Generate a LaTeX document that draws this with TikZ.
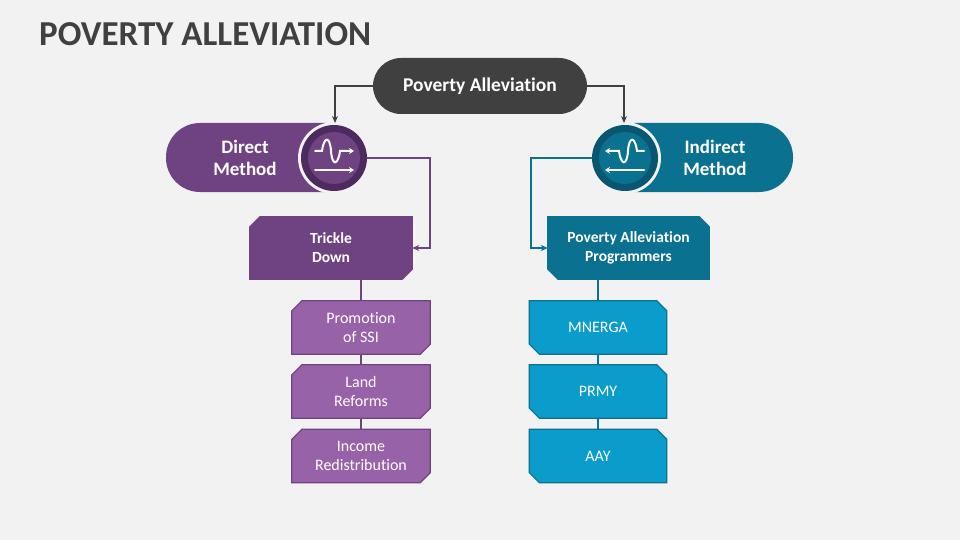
\documentclass[tikz,border=0pt]{standalone}
\usepackage{fontspec}
\setmainfont[Ligatures=NoCommon]{Carlito}
\usetikzlibrary{calc,arrows.meta}
\definecolor{bg}{HTML}{F2F2F2}
\definecolor{dk}{HTML}{404040}
\definecolor{pu}{HTML}{6F4382}
\definecolor{pud}{HTML}{4E2B5E}
\definecolor{pul}{HTML}{9862A8}
\definecolor{te}{HTML}{0B7191}
\definecolor{ted}{HTML}{085670}
\definecolor{tel}{HTML}{0A9CCB}
\newcommand{\cutA}[3]{% cut top-left & bottom-right
 \path[fill=#2,draw=#3,line width=1.2pt] ($(#1.north west)+(10,0)$) -- (#1.north east) -- ($(#1.south east)+(0,-10)$) -- ($(#1.south east)+(-10,0)$) -- (#1.south west) -- ($(#1.north west)+(0,10)$) -- cycle;}
\newcommand{\cutB}[3]{% cut top-right & bottom-left
 \path[fill=#2,draw=#3,line width=1.2pt] (#1.north west) -- ($(#1.north east)+(-10,0)$) -- ($(#1.north east)+(0,10)$) -- (#1.south east) -- ($(#1.south west)+(10,0)$) -- ($(#1.south west)+(0,-10)$) -- cycle;}
\tikzset{
 txt/.style={text=white,font=\bfseries\fontsize{15.5}{19}\selectfont,align=center,inner sep=0},
 ctxt/.style={text=white,font=\fontsize{16}{19}\selectfont,align=center,inner sep=0},
 conn/.style={line width=1.5pt,-{Stealth[length=7pt,width=6pt]}},
 vline/.style={line width=2.5pt},
 wave/.style={white,line width=2pt,line cap=round},
}
\begin{document}
\begin{tikzpicture}[x=1pt,y=-1pt]
\fill[bg] (0,0) rectangle (960,540);
\useasboundingbox (0,0) rectangle (960,540);
\node[anchor=west,text=dk,font=\bfseries\fontsize{35}{38}\selectfont,inner sep=0] (title) at (39,34) {POVERTY ALLEVIATION};
% top pill
\fill[dk,rounded corners=28pt] (373,58) rectangle (587,114);
\node[txt,font=\bfseries\fontsize{19.5}{22}\selectfont] (top) at (480,86) {Poverty Alleviation};
% direct pill
\fill[pu,rounded corners=34pt] (166,123) rectangle (360,192);
\fill[pu] (300,123) rectangle (334,192);
\node[txt,font=\bfseries\fontsize{19}{22}\selectfont] (dm) at (245,158) {Direct\\Method};
\fill[bg] (334,158) circle (36);
\fill[pud] (334,158) circle (33);
\fill[pu] (334,158) circle (26);
\coordinate (dmc) at (334,158);
\draw[wave,-{Stealth[length=5pt,width=6pt]}] (315,151) -- (322,151) .. controls (324,136) and (330,136) .. (331,151) .. controls (332,166) and (338,166) .. (340,151) -- (354,151);
\draw[wave,-{Stealth[length=5pt,width=6pt]}] (315,170) -- (354,170);
% indirect pill
\fill[te,rounded corners=34pt] (600,123) rectangle (793,192);
\fill[te] (625,123) rectangle (660,192);
\node[txt,font=\bfseries\fontsize{19}{22}\selectfont] (im) at (715,158) {Indirect\\Method};
\fill[bg] (625,158) circle (36);
\fill[ted] (625,158) circle (33);
\fill[te] (625,158) circle (26);
\draw[wave,-{Stealth[length=5pt,width=6pt]}] (644,151) -- (637,151) .. controls (635,136) and (629,136) .. (628,151) .. controls (627,166) and (621,166) .. (619,151) -- (605,151);
\draw[wave,-{Stealth[length=5pt,width=6pt]}] (644,170) -- (605,170);
% second level
\node[minimum width=162,minimum height=62,inner sep=0] (td) at (331,248) {};
\cutA{td}{pu}{pu}
\node[txt] at (td) {Trickle\\Down};
\node[minimum width=161,minimum height=62,inner sep=0] (pap) at (628.5,248) {};
\cutB{pap}{te}{te}
\node[txt] at (pap) {Poverty Alleviation\\Programmers};
% connectors top
\draw[dk,conn] (373,86) -| (335,123);
\draw[dk,conn] (587,86) -| (624,123);
\draw[pu,conn] (367,158) -| (430,248) -- (td.east);
\draw[te,conn] (592,158) -| (531,248) -- (pap.west);
% children
\node[minimum width=138,minimum height=53,inner sep=0] (l1) at (361,327.5) {};
\node[minimum width=138,minimum height=53,inner sep=0] (l2) at (361,391.5) {};
\node[minimum width=138,minimum height=53,inner sep=0] (l3) at (361,456) {};
\node[minimum width=137,minimum height=53,inner sep=0] (r1) at (598,327.5) {};
\node[minimum width=137,minimum height=53,inner sep=0] (r2) at (598,391.5) {};
\node[minimum width=137,minimum height=53,inner sep=0] (r3) at (598,456) {};
\draw[pu,vline] (td.south -| l1) -- (l3);
\draw[te,vline] (pap.south -| r1) -- (r3);
\cutA{l1}{pul}{pu}\cutA{l2}{pul}{pu}\cutA{l3}{pul}{pu}
\cutB{r1}{tel}{te}\cutB{r2}{tel}{te}\cutB{r3}{tel}{te}
\node[ctxt] at (l1) {Promotion\\of SSI};
\node[ctxt] at (l2) {Land\\Reforms};
\node[ctxt] at (l3) {Income\\Redistribution};
\node[ctxt] at (r1) {MNERGA};
\node[ctxt] at (r2) {PRMY};
\node[ctxt] at (r3) {AAY};
\end{tikzpicture}
\end{document}
